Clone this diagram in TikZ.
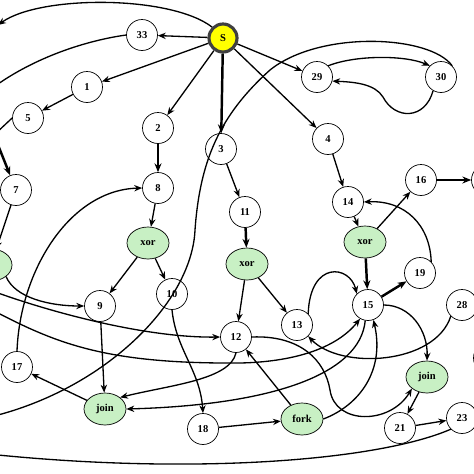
\documentclass[tikz,border=0pt]{standalone}
\usepackage{fontspec}
\setmainfont{Liberation Serif}
\usetikzlibrary{shapes.geometric, arrows.meta, positioning, calc}
\definecolor{gategreen}{RGB}{200,240,196}
\definecolor{srcyellow}{RGB}{255,255,0}

\begin{document}
\begin{tikzpicture}[x=0.02cm, y=-0.02cm,
    vtx/.style={draw, circle, minimum size=0.62cm, inner sep=0pt,
                fill=white, font=\fontsize{6}{7}\selectfont\bfseries},
    gate/.style={draw, ellipse, minimum width=0.84cm, minimum height=0.64cm,
                 inner sep=0pt, fill=gategreen,
                 font=\fontsize{6}{7}\selectfont\bfseries},
    src/.style={draw=black!75, circle, line width=1.8pt, fill=srcyellow,
                minimum size=0.56cm, inner sep=0pt,
                font=\fontsize{6}{7}\selectfont\bfseries},
    arw/.style={->, >={Stealth[length=4.5pt,width=3.6pt]}, line width=0.75pt},
    tarw/.style={->, >={Stealth[length=5pt,width=4pt]}, line width=1.4pt},
    lnk/.style={line width=0.75pt}
  ]
    \useasboundingbox (0,0) rectangle (474,474);

    % Knoten
    \node[src]  (S)   at (223,38)  {S};
    \node[vtx]  (n33) at (142,35)  {33};
    \node[vtx]  (n1)  at (87,87)   {1};
    \node[vtx]  (n5)  at (28,118)  {5};
    \node[vtx]  (n2)  at (158,128) {2};
    \node[vtx]  (n3)  at (221,149) {3};
    \node[vtx]  (n8)  at (158,188) {8};
    \node[vtx]  (n7)  at (16,190)  {7};
    \node[vtx]  (n4)  at (328,139) {4};
    \node[vtx]  (n14) at (348,202) {14};
    \node[vtx]  (n16) at (421,180) {16};
    \node[vtx]  (nR1) at (487,180) {};
    \node[vtx]  (n29) at (317,77)  {29};
    \node[vtx]  (n30) at (441,77)  {30};
    \node[vtx]  (n11) at (245,212) {11};
    \node[gate] (xA)  at (148,243) {xor};
    \node[gate] (xB)  at (247,264) {xor};
    \node[gate] (xC)  at (365,242) {xor};
    \node[gate] (xL)  at (-9,265)  {};
    \node[vtx]  (n9)  at (100,306) {9};
    \node[vtx]  (n10) at (172,294) {10};
    \node[vtx]  (n12) at (236,337) {12};
    \node[vtx]  (n13) at (297,325) {13};
    \node[vtx]  (n15) at (368,305) {15};
    \node[vtx]  (n19) at (420,273) {19};
    \node[vtx]  (n28) at (462,305) {28};
    \node[vtx]  (nR2) at (489,358) {};
    \node[vtx]  (n17) at (17,367)  {17};
    \node[gate] (jA)  at (105,409) {join};
    \node[gate] (jB)  at (427,377) {join};
    \node[gate] (fk)  at (302,419) {fork};
    \node[vtx]  (n18) at (203,429) {18};
    \node[vtx]  (n21) at (400,428) {21};
    \node[vtx]  (n23) at (462,418) {23};

    % freie Enden am Bildrand
    \coordinate (lt) at (-2,25);
    \coordinate (l33) at (-2,84);
    \coordinate (c6) at (-6,135);
    \coordinate (cL1) at (-2,293);
    \coordinate (cL2) at (-2,313);
    \coordinate (cL3) at (-2,415);
    \coordinate (cL4) at (-2,455);
    \coordinate (cR) at (486,284);

    % Kanten von S
    \draw[arw] (S) -- (n33);
    \draw[arw] (S) -- (n1);
    \draw[arw] (S) -- (n2);
    \draw[tarw] (S) -- (n3);
    \draw[arw] (S) -- (n4);
    \draw[arw] (S) -- (n29);
    \draw[arw] (S.north west) .. controls (170,-5) and (40,-5) .. (lt);

    % linke Seite
    \draw[lnk] (n33.west) .. controls (90,40) and (40,55) .. (l33);
    \draw[arw] (n1) -- (n5);
    \draw[lnk] (n5.west) -- (c6);
    \draw[tarw] (c6) -- (n7);
    \draw[arw] (n7) -- (xL);
    \draw[tarw] (n2) -- (n8);
    \draw[arw] (n8) -- (xA);
    \draw[arw] (xA) -- (n9);
    \draw[arw] (xA) -- (n10);
    \draw[arw] (n17.north) .. controls (20,270) and (70,190) .. (n8.west);
    \draw[arw] (xL.south east) .. controls (15,298) and (50,306) .. (n9.west);
    \draw[arw] (cL1) .. controls (60,315) and (150,338) .. (n12.west);
    \draw[arw] (cL2) .. controls (60,345) and (110,364) .. (240,363)
                     .. controls (290,362) and (335,350) .. (n15.-120);
    \draw[arw] (n9) -- (jA);
    \draw[arw] (jA) -- (n17);
    \draw[arw] (n10.south) .. controls (176,350) and (200,370) .. (n18.north);

    % Mitte
    \draw[arw] (n3) -- (n11);
    \draw[tarw] (n11) -- (xB);
    \draw[arw] (xB) -- (n12);
    \draw[arw] (xB) -- (n13);
    \draw[arw] (n12.south) .. controls (230,380) and (170,385) .. (jA.north east);
    \draw[arw] (n15.-100) .. controls (360,375) and (270,405) .. (jA.east);
    \draw[arw] (n18) -- (fk);
    \draw[arw] (fk) -- (n12);
    \draw[arw] (fk.east) .. controls (360,405) and (385,370) .. (n15.-70);
    \draw[arw] (n12.east) .. controls (300,335) and (325,360) .. (330,390)
                          .. controls (335,425) and (390,425) .. (jB.south west);
    \draw[arw] (n13.north east) .. controls (310,260) and (350,265) .. (n15.north west);
    \draw[arw] (n28.south west) .. controls (435,365) and (340,370) .. (n13.south east);
    \draw[lnk] (n30.north east) .. controls (430,35) and (320,30) .. (270,70)
                                .. controls (220,115) and (200,160) .. (195,230)
                                .. controls (192,300) and (110,385) .. (cL3);

    % rechte Seite
    \draw[arw] (n4) -- (n14);
    \draw[arw] (n14) -- (xC);
    \draw[arw] (xC) -- (n16);
    \draw[tarw] (n16) -- (nR1);
    \draw[tarw] (xC) -- (n15);
    \draw[tarw] (n15) -- (n19);
    \draw[arw] (n19.north east) .. controls (430,225) and (405,200) .. (n14.east);
    \draw[arw] (n15.east) .. controls (410,305) and (428,330) .. (jB.north);
    \draw[arw] (jB) -- (n21);
    \draw[arw] (n21) -- (n23);
    \draw[arw] (cR) -- (n28);
    \draw[arw] (n29.north east) .. controls (355,55) and (405,55) .. (n30.north west);
    \draw[arw] (n30.-120) .. controls (425,120) and (395,120) .. (383,97)
                          .. controls (375,84) and (355,82) .. (n29.-15);
    \draw[lnk] (n23.south west) .. controls (380,460) and (200,475) .. (cL4);
\end{tikzpicture}
\end{document}
